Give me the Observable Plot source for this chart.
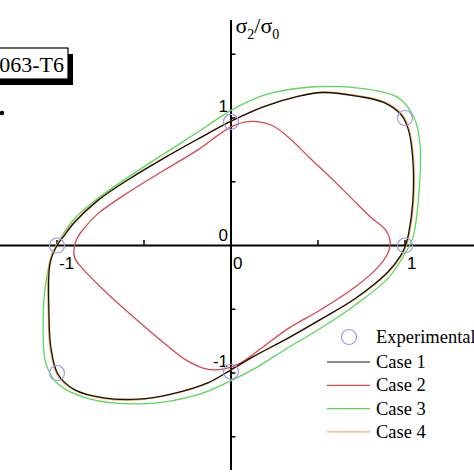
<!DOCTYPE html>
<html><head><meta charset="utf-8">
<script src="https://cdn.jsdelivr.net/npm/d3@7"></script>
<script src="https://cdn.jsdelivr.net/npm/@observablehq/plot@0.6"></script>
<style>html,body{margin:0;padding:0;background:#fff;overflow:hidden}</style>
</head><body><div id="chart"></div>
<script>
const xDomain = [-1.3247, 1.3994];
const yDomain = [-1.796, 1.9216];
const axisSpan = [-1.765, 1.765];
const xTicks = [-1, -0.5, 0.5, 1];
const yTicks = [-1.5, -1, -0.5, 0.5, 1, 1.5];
const xTickLabels = [-1, 0, 1];
const yTickLabels = [1, -1];
const yAxisTitle = ["σ", "2", "/σ", "0"];
const materialLabel = "6063-T6";
const experimental = [[1.0,1.0],[1.0,0.0],[0.0,0.97],[-1.0,0.0],[-1.0,-1.0],[0.0,-0.99]];
const case1 = [[1.0,-0.01],[1.02,0.09],[1.045,0.35],[1.045,0.67],[1.02,0.905],[0.98,1.02],[0.88,1.12],[0.73,1.17],[0.53,1.20],[0.385,1.17],[0.19,1.09],[0.0,0.975],[-0.19,0.835],[-0.385,0.685],[-0.575,0.53],[-0.765,0.354],[-0.90,0.18],[-0.965,0.065],[-1.0,0.0],[-1.04,-0.14],[-1.046,-0.535],[-1.035,-0.80],[-0.994,-1.01],[-0.90,-1.13],[-0.73,-1.195],[-0.535,-1.205],[-0.345,-1.165],[-0.13,-1.075],[0.0,-0.975],[0.13,-0.87],[0.33,-0.724],[0.52,-0.575],[0.71,-0.42],[0.90,-0.21],[0.975,-0.08]];
const case2 = [[0.915,0.02],[0.89,0.118],[0.80,0.225],[0.70,0.36],[0.575,0.53],[0.45,0.69],[0.33,0.85],[0.23,0.945],[0.10,0.972],[0.0,0.93],[-0.19,0.75],[-0.385,0.59],[-0.575,0.43],[-0.765,0.25],[-0.845,0.134],[-0.89,0.04],[-0.90,-0.09],[-0.86,-0.17],[-0.70,-0.39],[-0.535,-0.59],[-0.38,-0.77],[-0.25,-0.905],[-0.13,-0.972],[-0.03,-0.965],[0.05,-0.925],[0.17,-0.81],[0.33,-0.65],[0.52,-0.50],[0.71,-0.33],[0.845,-0.17],[0.90,-0.063]];
const case3 = [[1.045,0.06],[1.08,0.41],[1.086,0.80],[1.05,1.01],[0.96,1.16],[0.76,1.23],[0.48,1.245],[0.19,1.18],[0.0,1.06],[-0.19,0.89],[-0.385,0.72],[-0.575,0.55],[-0.765,0.37],[-0.90,0.21],[-0.977,0.063],[-1.017,-0.04],[-1.063,-0.28],[-1.08,-0.67],[-1.063,-0.93],[-0.994,-1.087],[-0.82,-1.2],[-0.48,-1.24],[-0.19,-1.17],[0.0,-1.06],[0.13,-0.97],[0.33,-0.80],[0.52,-0.645],[0.71,-0.47],[0.90,-0.26],[1.0,-0.063]];
const case4 = [[1.005,-0.01],[1.025,0.09],[1.05,0.35],[1.05,0.67],[1.025,0.905],[0.985,1.025],[0.885,1.125],[0.73,1.175],[0.53,1.205],[0.385,1.172],[0.19,1.092],[0.0,0.975],[-0.19,0.835],[-0.385,0.687],[-0.575,0.532],[-0.765,0.356],[-0.905,0.18],[-0.97,0.065],[-1.005,0.0],[-1.045,-0.14],[-1.05,-0.535],[-1.04,-0.80],[-0.998,-1.015],[-0.90,-1.135],[-0.73,-1.2],[-0.535,-1.21],[-0.345,-1.168],[-0.13,-1.077],[0.0,-0.977],[0.13,-0.872],[0.33,-0.726],[0.52,-0.577],[0.71,-0.422],[0.905,-0.21],[0.98,-0.08]];
const seriesNames = ["Case 1", "Case 2", "Case 3", "Case 4"];
const seriesColors = ["#1a1208", "#d8484f", "#5ad85a", "#f0a458"];
const legendLineColors = ["#666666", "#d8484f", "#5ad85a", "#f0b070"];
const expName = "Experimental";
const expColor = "#9a9ae0";

const toRows = (arr) => arr.map(([x, y]) => ({x, y}));
const lineOpts = (color) => ({x: "x", y: "y", stroke: color, strokeWidth: 1.3, curve: "catmull-rom-closed"});
const SERIF = "'Liberation Serif', 'Times New Roman', serif";

const chart = Plot.plot({
  width: 474, height: 474,
  marginTop: 0, marginRight: 0, marginBottom: 0, marginLeft: 0,
  x: {domain: xDomain, axis: null},
  y: {domain: yDomain, axis: null},
  style: {background: "#fff", fontFamily: "'Liberation Sans', Arial, sans-serif"},
  marks: [
    Plot.ruleY([0], {stroke: "#000", strokeWidth: 2}),
    Plot.ruleX([0], {y1: axisSpan[0], y2: axisSpan[1], stroke: "#000", strokeWidth: 2}),
    Plot.ruleX(xTicks, {x: d => d, y1: 0, y2: 0, insetTop: -5, stroke: "#000", strokeWidth: 1.5}),
    Plot.ruleY(yTicks, {y: d => d, x1: 0, x2: 0, insetRight: -5, stroke: "#000", strokeWidth: 1.5}),
    Plot.text(xTickLabels, {x: d => d, y: 0, text: d => String(d), textAnchor: "start", dx: 2, dy: 18, fontSize: 17, fill: "#000"}),
    Plot.text([0], {x: 0, y: 0, text: d => String(d), textAnchor: "end", dx: -3, dy: -10, fontSize: 17, fill: "#000"}),
    Plot.text(yTickLabels, {x: 0, y: d => d, text: d => String(d), textAnchor: "end", dx: -3, dy: -11, fontSize: 17, fill: "#000"}),
    Plot.line(toRows(case3), lineOpts(seriesColors[2])),
    Plot.line(toRows(case2), lineOpts(seriesColors[1])),
    Plot.line(toRows(case4), lineOpts(seriesColors[3])),
    Plot.line(toRows(case1), lineOpts(seriesColors[0])),
    Plot.dot(toRows(experimental), {x: "x", y: "y", r: 7.5, stroke: expColor, strokeWidth: 1.2, fill: "none"})
  ]
});

const svg = d3.select(chart);
const sx = chart.scale("x"), sy = chart.scale("y");

// y-axis title with subscripts
const t = svg.append("text")
  .attr("x", sx.apply(0) + 5).attr("y", sy.apply(axisSpan[1]) + 13)
  .attr("text-anchor", "start")
  .style("font-family", SERIF)
  .style("font-size", "22px").attr("fill", "#000");
t.append("tspan").text(yAxisTitle[0]);
t.append("tspan").style("font-size", "14px").attr("dy", 6).text(yAxisTitle[1]);
t.append("tspan").attr("dy", -6).text(yAxisTitle[2]);
t.append("tspan").style("font-size", "14px").attr("dy", 6).text(yAxisTitle[3]);

// material label box (cut at left edge)
const box = svg.append("g");
box.append("rect").attr("x", -35).attr("y", 54).attr("width", 108).attr("height", 31).attr("fill", "#000");
box.append("rect").attr("x", -40).attr("y", 48).attr("width", 108).attr("height", 31).attr("fill", "#fff").attr("stroke", "#000").attr("stroke-width", 1.2);
box.append("text").attr("x", 64).attr("y", 72).attr("text-anchor", "end")
  .style("font-family", SERIF).style("font-size", "22px").attr("fill", "#000").text(materialLabel);
svg.append("circle").attr("cx", 2).attr("cy", 113).attr("r", 2.2).attr("fill", "#000");

// legend
const lg = svg.append("g");
lg.append("circle").attr("cx", 349).attr("cy", 337).attr("r", 7.5).attr("fill", "none").attr("stroke", expColor).attr("stroke-width", 1.2);
const legendText = (y, s) => lg.append("text").attr("x", 376).attr("y", y)
  .attr("text-anchor", "start").attr("dominant-baseline", "central")
  .style("font-family", SERIF).style("font-size", "18.5px").attr("fill", "#000").text(s);
legendText(337, expName);
seriesNames.forEach((name, i) => {
  const yy = 362 + i * 23.3;
  lg.append("line").attr("x1", 327).attr("x2", 370).attr("y1", yy).attr("y2", yy).attr("stroke", legendLineColors[i]).attr("stroke-width", 1.3);
  legendText(yy, name);
});

document.getElementById("chart").appendChild(chart);
</script>
</body></html>
